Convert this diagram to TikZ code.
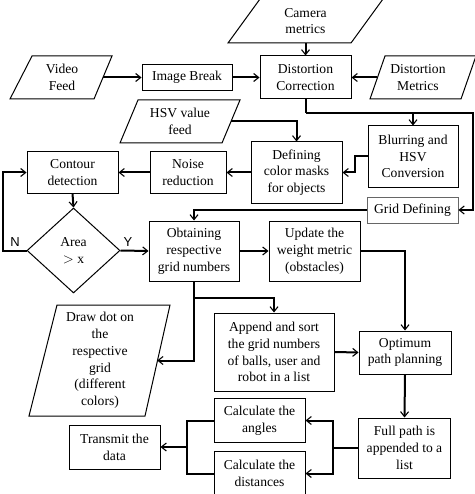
\documentclass[tikz,border=0pt]{standalone}
\usepackage{fontspec}
\setmainfont{Liberation Serif}
\newfontfamily\lblfont{Liberation Sans}
\usetikzlibrary{arrows.meta,shapes.geometric,calc}
\begin{document}
\begin{tikzpicture}[x=1pt,y=-1pt,
  txt/.style={inner sep=0pt, align=center, font=\fontsize{13.6}{16.8}\selectfont},
  box/.style={txt, draw, line width=1pt},
  para/.style={draw, line width=1pt, line join=miter},
  conn/.style={line width=2pt, -{Straight Barb[length=5pt,width=8pt,line width=1.1pt]}},
  link/.style={line width=2pt},
  lbl/.style={inner sep=0pt, font=\lblfont\fontsize{13}{13}\selectfont}]
\useasboundingbox (0,0) rectangle (474,494);

% rectangles
\node[box, minimum width=90pt, minimum height=26pt] (imgbreak) at (187,77.5) {Image Break};
\node[box, minimum width=91pt, minimum height=43pt] (distcorr) at (305.5,77.5) {Distortion\\Correction};
\node[box, minimum width=90pt, minimum height=61pt] (blur) at (413,156.5) {Blurring and\\HSV\\Conversion};
\node[box, minimum width=91pt, minimum height=61pt] (defmask) at (296.5,172.5) {Defining\\color masks\\for objects};
\node[box, minimum width=76pt, minimum height=41pt] (noise) at (188,172.5) {Noise\\reduction};
\node[box, minimum width=91pt, minimum height=41pt] (contour) at (72.5,172.5) {Contour\\detection};
\node[txt, draw, line width=1pt, shape=diamond, minimum width=93pt, minimum height=85pt] (area) at (73.5,250.5) {Area\\$>$ x};
\node[txt, draw=gray!80!black, line width=0.8pt, minimum width=91pt, minimum height=26pt] (grid) at (412.5,210) {Grid Defining};
\node[box, minimum width=90pt, minimum height=60pt] (obtain) at (194,251) {Obtaining\\respective\\grid numbers};
\node[box, minimum width=91pt, minimum height=60pt] (update) at (314.5,251) {Update the\\weight metric\\(obstacles)};
\node[box, minimum width=120pt, minimum height=78pt] (append) at (274,352) {Append and sort\\the grid numbers\\of balls, user and\\robot in a list};
\node[box, minimum width=92pt, minimum height=43pt] (optimum) at (405,352.5) {Optimum\\path planning};
\node[box, minimum width=91pt, minimum height=44pt] (angles) at (259.5,420.5) {Calculate the\\angles};
\node[box, minimum width=91pt, minimum height=45pt] (distances) at (259.5,473.5) {Calculate the\\distances};
\node[box, minimum width=91pt, minimum height=44pt] (transmit) at (114.5,447) {Transmit the\\data};
\node[box, minimum width=92pt, minimum height=60pt] (fullpath) at (404.5,448) {Full path is\\appended to a\\list};

% parallelograms
\draw[para] (260,-1) -- (383,-1) -- (351,43) -- (228,43) -- cycle;
\node[txt, minimum width=100pt, minimum height=44pt] (camera) at (305.5,21) {Camera\\metrics};
\draw[para] (32,56) -- (112,56) -- (94,99) -- (10,99) -- cycle;
\node[txt, minimum width=82pt, minimum height=43pt] (video) at (62,77.5) {Video\\Feed};
\draw[para] (385,56) -- (476,56) -- (461,99) -- (370,99) -- cycle;
\node[txt, minimum width=81pt, minimum height=43pt] (distmet) at (418,77.5) {Distortion\\Metrics};
\draw[para] (138,100) -- (240,100) -- (222,143) -- (120,143) -- cycle;
\node[txt, minimum width=102pt, minimum height=43pt] (hsv) at (180,121.5) {HSV value\\feed};
\draw[para] (57,305) -- (170,305) -- (145,416) -- (29,416) -- cycle;
\node[txt, minimum width=114pt, minimum height=111pt] (drawdot) at (100,360.5) {Draw dot on\\the\\respective\\grid\\(different\\colors)};

% labels
\node[lbl] (nlbl) at (15,242) {N};
\node[lbl] (ylbl) at (128,242) {Y};

% junction coordinates
\coordinate (j1) at (305.5,113);
\coordinate (rt) at (473,113);
\coordinate (nl) at (3,250.5);
\coordinate (j2) at (194,298);
\coordinate (j3) at (333,448);
\coordinate (j4) at (187,447);

% connectors
\draw[conn] (video.east) -- (imgbreak.west);
\draw[conn] (imgbreak.east) -- (distcorr.west);
\draw[conn] (distmet.west) -- (distcorr.east);
\draw[conn] (camera.south) -- (distcorr.north);
\draw[link] (distcorr.south) -- (j1);
\draw[conn] (j1) -| (blur.north);
\draw[conn] (j1) -- (rt) |- (grid.east);
\draw[conn] (hsv.east) -| (defmask.north);
\draw[conn] (blur.west) -- ++(-13,0) |- (defmask.east);
\draw[conn] (defmask.west) -- (noise.east);
\draw[conn] (noise.west) -- (contour.east);
\draw[conn] (contour.south) -- (area.north);
\draw[conn] (area.west) -- (nl) |- (contour.west);
\draw[conn] (area.east) -- (obtain.west);
\draw[conn] (grid.west) -| (obtain.north);
\draw[conn] (obtain.east) -- (update.east -| update.west);
\draw[conn] (update.east) -| (optimum.north);
\draw[conn] (obtain.south) |- (drawdot.east);
\draw[conn] (j2) -| (append.north);
\draw[conn] (append.east) -- (optimum.west);
\draw[conn] (optimum.south) -- (fullpath.north);
\draw[link] (fullpath.west) -- (j3);
\draw[conn] (j3) |- (angles.east);
\draw[conn] (j3) |- (distances.east);
\draw[link] (angles.west) -| (j4) |- (distances.west);
\draw[conn] (j4) -- (transmit.east);
\end{tikzpicture}
\end{document}
